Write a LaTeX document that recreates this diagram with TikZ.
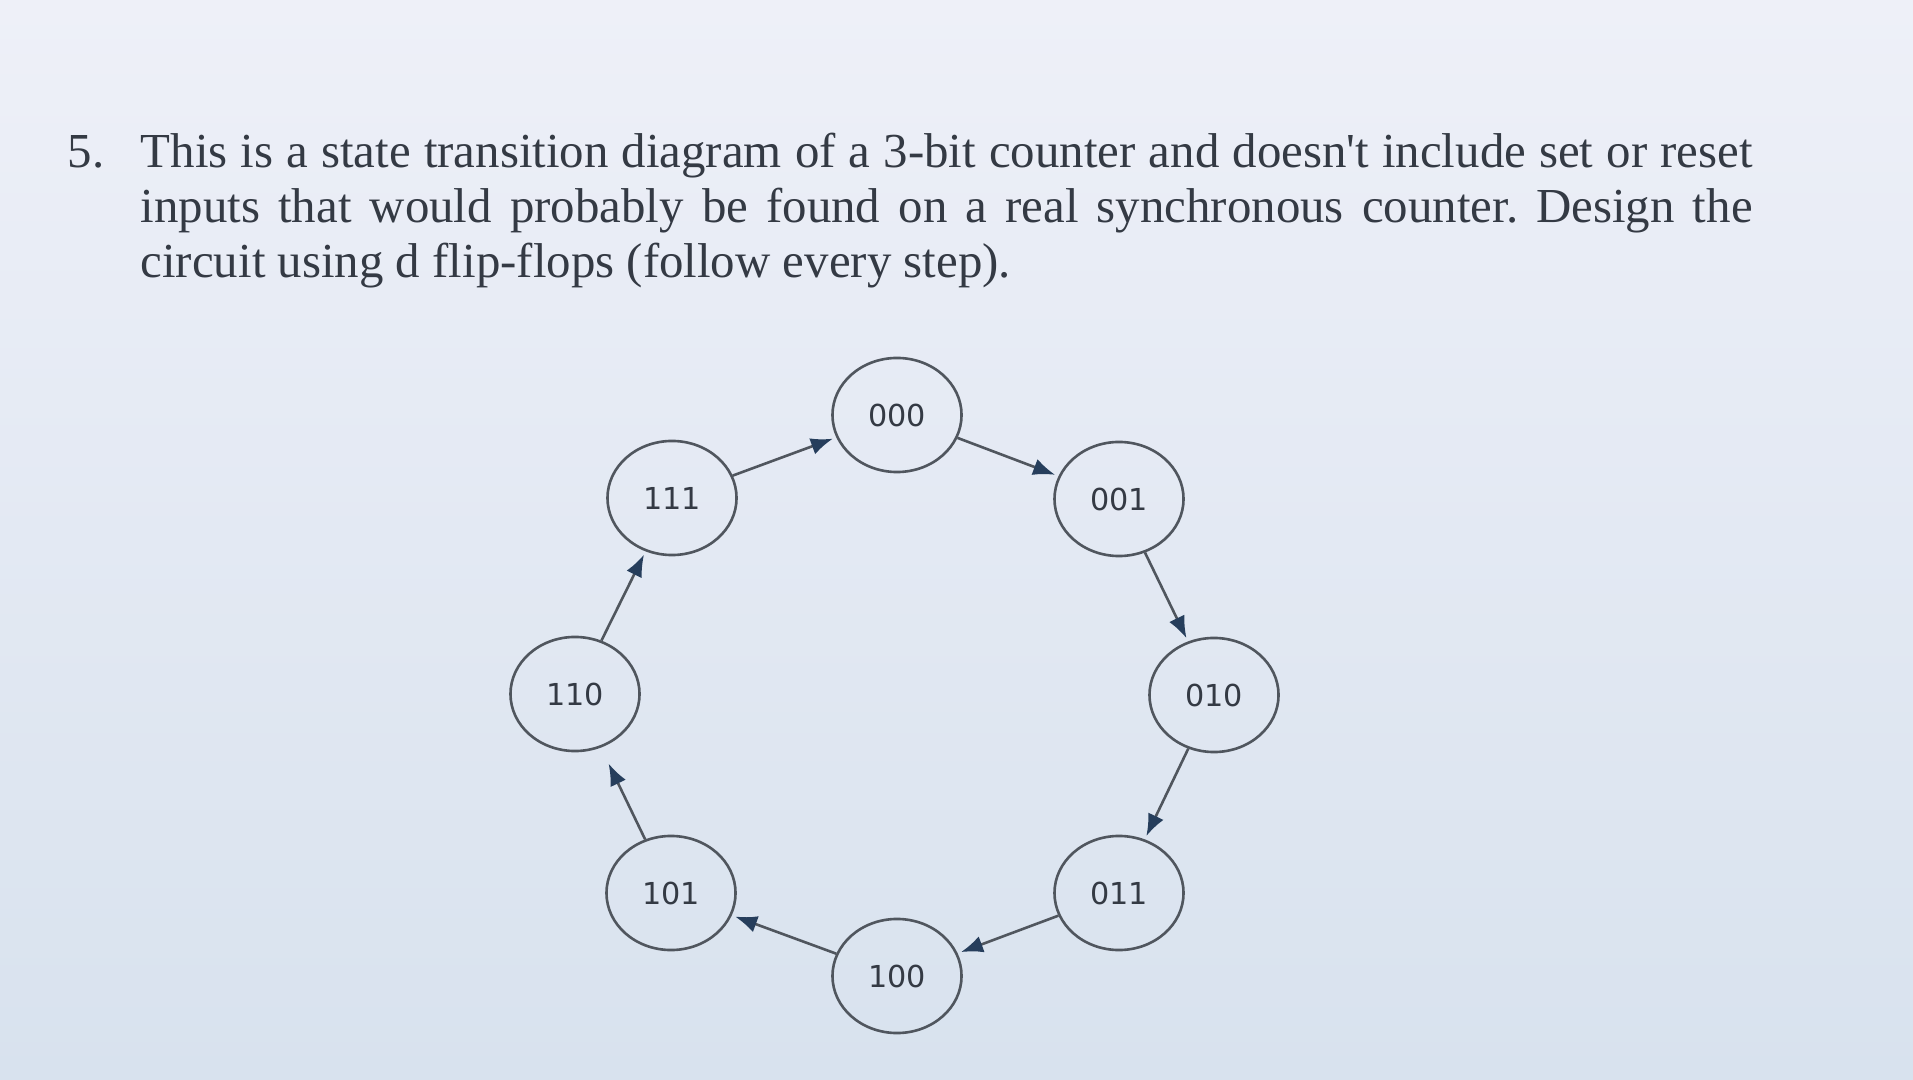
\documentclass[tikz,border=0pt]{standalone}
\usepackage{fontspec}
\setmainfont{Liberation Serif}
\newfontfamily\labfont{DejaVu Sans}
\usetikzlibrary{arrows.meta,shapes.geometric}
\definecolor{bgtop}{RGB}{238,240,248}
\definecolor{bgbot}{RGB}{216,226,238}
\definecolor{txt}{RGB}{52,58,68}
\definecolor{ring}{RGB}{80,86,94}
\definecolor{tip}{RGB}{38,62,92}
\tikzset{
  state/.style={ellipse, draw=ring, line width=0.026cm, minimum width=1.29cm, minimum height=1.14cm, inner sep=0pt, font=\labfont\fontsize{8.6pt}{10pt}\selectfont, text=txt},
  trans/.style={draw=ring, line width=0.026cm, -{Latex[length=0.22cm,width=0.17cm,color=tip]}, shorten >=1pt},
  qtext/.style={anchor=base west, inner sep=0pt, text=txt, font=\fontsize{13.9pt}{16pt}\selectfont}
}
\frenchspacing
\begin{document}
\begin{tikzpicture}[x=0.01cm,y=-0.01cm]
\useasboundingbox (0,0) rectangle (1913,1080);
\shade[top color=bgtop, bottom color=bgbot] (0,0) rectangle (1913,1080);
\node[qtext] (num) at (67,168) {5.};
\node[qtext] (l1) at (140,168) {\makebox[16.11cm][s]{This is a state transition diagram of a 3-bit counter and doesn\textquotesingle t include set or reset}};
\node[qtext] (l2) at (140,223) {\makebox[16.11cm][s]{inputs that would probably be found on a real synchronous counter. Design the}};
\node[qtext] (l3) at (140,278) {circuit using d flip-flops (follow every step).};
\node[state] (s000) at (897,415) {000};
\node[state] (s001) at (1119,499) {001};
\node[state] (s010) at (1214,695) {010};
\node[state] (s011) at (1119,893) {011};
\node[state] (s100) at (897,976) {100};
\node[state] (s101) at (671,893) {101};
\node[state] (s110) at (575,694) {110};
\node[state] (s111) at (672,498) {111};
\draw[trans] (s000) -- (s001);
\draw[trans] (s001) -- (s010);
\draw[trans] (s010) -- (s011);
\draw[trans] (s011) -- (s100);
\draw[trans] (s100) -- (s101);
\draw[trans,shorten >=5pt] (s101) -- (s110);
\draw[trans] (s110) -- (s111);
\draw[trans] (s111) -- (s000);
\end{tikzpicture}
\end{document}
